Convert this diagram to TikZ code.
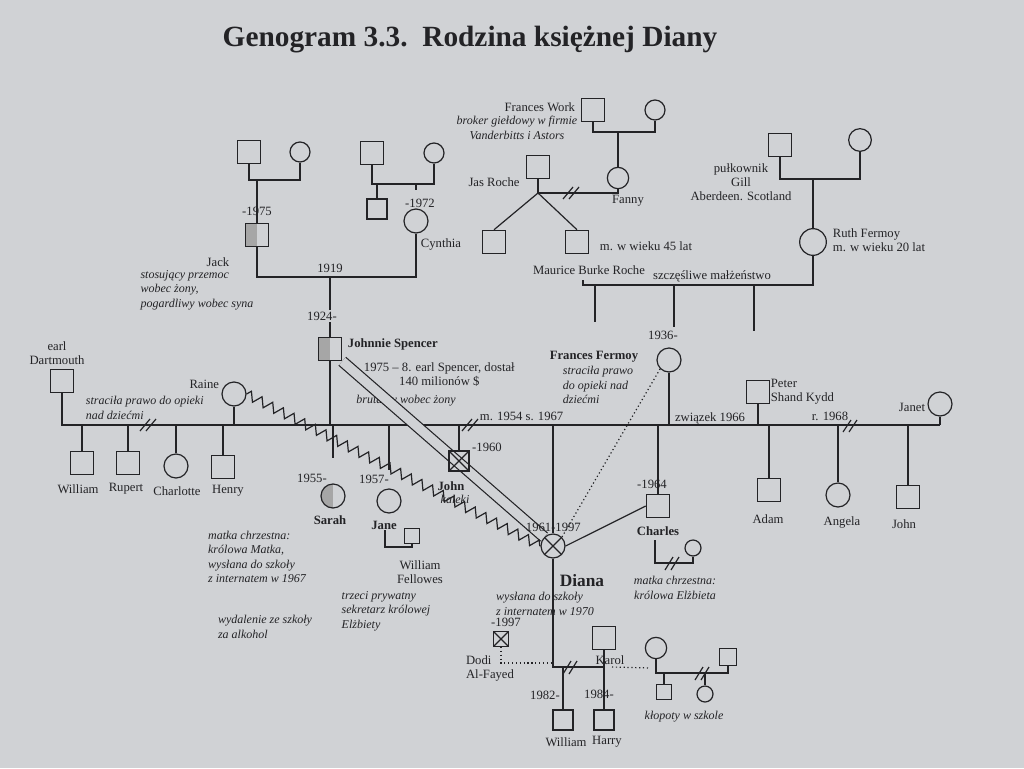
\documentclass[tikz,border=0pt]{standalone}
\usepackage{fontspec}
\setmainfont{Liberation Serif}
\usetikzlibrary{decorations.pathmorphing}
\definecolor{bg}{RGB}{208,210,213}
\definecolor{ink}{RGB}{35,35,38}
\begin{document}
\begin{tikzpicture}[x=0.75pt,y=-0.75pt,line width=0.9pt,draw=ink,text=ink,
  font=\fontsize{9.5}{10.5}\selectfont,
  sq/.style={draw,minimum size=17.5pt,inner sep=0},
  ssq/.style={draw,minimum size=11pt,inner sep=0},
  ci/.style={draw,circle,minimum size=18pt,inner sep=0},
  sci/.style={draw,circle,minimum size=12pt,inner sep=0},
  half/.style={path picture={\fill[gray!70] (path picture bounding box.south west) rectangle (path picture bounding box.north);}},
  cross/.style={path picture={\draw (path picture bounding box.south west)--(path picture bounding box.north east) (path picture bounding box.north west)--(path picture bounding box.south east);}},
  lab/.style={inner sep=1pt,align=center},
  it/.style={inner sep=1pt,align=left,font=\fontsize{9}{10.8}\selectfont\itshape},
  bl/.style={inner sep=1pt,font=\fontsize{9.5}{10.5}\selectfont\bfseries}]
\fill[bg] (0,0) rectangle (1024,768);
\useasboundingbox (0,0) rectangle (1024,768);
\node[font=\fontsize{22}{24}\selectfont\bfseries] (title) at (470,40) {Genogram 3.3.\ \ Rodzina księżnej Diany};
% --- Spencer grandparents
\node[sq] (gf1) at (249,152) {}; \node[ci,minimum size=15pt] (gm1) at (300,152) {};
\draw (gf1.south) |- (275,180) -| (gm1.south);
\node[sq,half] (jack) at (257,235) {};
\draw (257,180) -- (jack.north);
\node[lab] (t1975) at (257,211) {-1975};
\node[lab] (jackl) at (218,262) {Jack};
\node[it] (jackt) at (197,290) {stosujący przemoc\\wobec żony,\\pogardliwy wobec syna};
\node[sq] (gf2) at (372,153) {}; \node[ci,minimum size=15pt] (gm2) at (434,153) {};
\draw (gf2.south) |- (400,184) -| (gm2.south);
\node[sq,minimum size=15pt] (bro) at (377,209) {};
\node[ci] (cyn) at (416,221) {};
\draw (377,184) -- (bro.north); \draw (416,184) -- (416,190);
\node[lab] (t1972) at (420,203) {-1972};
\node[lab,anchor=west] (cynl) at (419,244) {Cynthia};
\draw (jack.south) |- (330,277) -| (cyn.south);
\node[lab] (t1919) at (330,268) {1919};
\node[sq,half] (johnnie) at (330,349) {};
\draw (330,277) -- (johnnie.north);
\node[lab,fill=bg] (t1924) at (322,316) {1924-};
\node[bl,anchor=west] (johnniel) at (346,344) {Johnnie Spencer};
\node[lab,anchor=north west] (earl) at (362,361) {1975 – 8. earl Spencer, dostał\\140 milionów \$};
\node[it] (brut) at (406,401) {brutalny wobec żony};
% --- Dartmouth, Raine
\node[sq] (dart) at (62,381) {};
\node[lab] (dartl) at (57,353) {earl\\Dartmouth};
\node[ci] (raine) at (234,394) {};
\node[lab,anchor=east] (rainel) at (221,384) {Raine};
\node[it,anchor=west] (rainet) at (84,408) {straciła prawo do opieki\\nad dziećmi};
\draw (dart.south) |- (234,425) -- (raine.south);
\draw (140,431)--(150,419) (146,431)--(156,419);
\node[sq] (w1) at (82,463) {}; \node[sq] (rup) at (128,463) {}; \node[ci] (cha) at (176,466) {}; \node[sq] (hen) at (223,467) {};
\foreach \n/\x in {w1/82,rup/128,cha/176,hen/223}{\draw (\x,425) -- (\n.north);}
\node[lab] (w1l) at (78,489) {William}; \node[lab] (rupl) at (126,489) {Rupert};
\node[lab] (chal) at (177,491) {Charlotte}; \node[lab] (henl) at (228,491) {Henry};
% --- main line
\node[ci] (fran) at (669,360) {};
\node[lab] (t1936) at (663,335) {1936-};
\node[bl] (franl) at (594,357) {Frances Fermoy};
\node[it] (frant) at (598,385) {straciła prawo\\do opieki nad\\dziećmi};
\draw (234,425) -- (940,425);
\draw (johnnie.south) -- (330,425);
\draw (fran.south) -- (669,425);
\draw (462,431)--(472,419) (468,431)--(478,419);
\node[lab,anchor=west] (mar) at (478,416) {m. 1954 s. 1967};
% children
\node[ci,half] (sarah) at (333,496) {};
\draw (333,425) -- (333,458);
\node[lab] (t1955) at (312,478) {1955-};
\node[bl] (sarahl) at (330,520) {Sarah};
\node[it] (saraht) at (257,557) {matka chrzestna:\\królowa Matka,\\wysłana do szkoły\\z internatem w 1967};
\node[it] (wyd) at (265,627) {wydalenie ze szkoły\\za alkohol};
\node[ci] (jane) at (389,501) {};
\draw (389,425) -- (389,470);
\node[lab] (t1957) at (374,479) {1957-};
\node[bl] (janel) at (384,525) {Jane};
\node[ssq] (wf) at (412,536) {};
\draw (385,530) |- (412,547) -- (wf.south);
\node[lab] (wfl) at (420,572) {William\\Fellowes};
\node[it] (wft) at (386,611) {trzeci prywatny\\sekretarz królowej\\Elżbiety};
% double line and zigzag
\node[ci,cross] (diana) at (553,546) {};
\draw[double=bg,double distance=7pt] (johnnie.south east) -- (diana.north west);
\draw[decorate,decoration={zigzag,segment length=9pt,amplitude=3.5pt}] (raine.east) -- (diana.west);
\node[sq,half,cross,minimum size=15pt] (john) at (459,461) {};
\draw (459,425) -- (john.north);
\node[lab] (t1960) at (487,447) {-1960};
\node[bl] (johnl) at (451,486) {John};
\node[it] (johnt) at (455,499) {kaleki};
\draw (553,425) -- (diana.north);
\node[lab,anchor=west] (t1961) at (524,527) {1961-1997};
\node[font=\fontsize{13}{15}\selectfont\bfseries,inner sep=1pt] (dianal) at (582,581) {Diana};
\node[it] (dianat) at (545,604) {wysłana do szkoły\\z internatem w 1970};
\draw[dotted] (fran.south west) -- (diana.north east);
% Charles
\node[sq] (charles) at (658,506) {};
\draw (658,425) -- (charles.north);
\node[lab] (t1964) at (652,484) {-1964};
\node[bl] (charlesl) at (658,531) {Charles};
\draw (diana.east) -- (charles.west);
\node[sci] (chw) at (693,548) {};
\draw (655,540) |- (693,563) -- (chw.south);
\draw (665,570)--(673,557) (671,570)--(679,557);
\node[it,align=center] (cht) at (675,588) {matka chrzestna:\\królowa Elżbieta};
% Peter, Janet
\node[sq] (peter) at (758,392) {};
\node[lab,anchor=west,align=left] (peterl) at (769,392) {Peter\\Shand Kydd};
\draw (peter.south) -- (758,425);
\node[lab] (zw) at (710,418) {związek 1966};
\node[ci] (janet) at (940,404) {};
\node[lab] (janetl) at (912,407) {Janet};
\draw (janet.south) -- (940,425);
\node[lab] (r1968) at (830,416) {r. 1968};
\draw (843,432)--(851,420) (849,432)--(857,420);
\node[sq] (adam) at (769,490) {}; \node[ci] (ang) at (838,495) {}; \node[sq] (jo2) at (908,497) {};
\foreach \n/\x in {adam/769,ang/838,jo2/908}{\draw (\x,425) -- (\n.north);}
\node[lab] (adaml) at (768,519) {Adam}; \node[lab] (angl) at (842,522) {Angela}; \node[lab] (jo2l) at (904,524) {John};
% --- Roche / Fermoy
\node[sq] (fw) at (593,110) {}; \node[ci,minimum size=15pt] (fwm) at (655,110) {};
\draw (fw.south) |- (620,132) -| (fwm.south);
\node[lab,anchor=east] (fwl) at (577,107) {Frances Work};
\node[it,align=center] (fwt) at (517,128) {broker giełdowy w firmie\\Vanderbitts i Astors};
\node[ci,minimum size=16pt] (fanny) at (618,178) {};
\draw (618,132) -- (fanny.north);
\node[lab] (fannyl) at (628,201) {Fanny};
\node[sq] (jas) at (538,167) {};
\node[lab] (jasl) at (494,182) {Jas Roche};
\draw (jas.south) -- (538,193) -- (618,193) -- (fanny.south);
\draw (563,199)--(573,187) (569,199)--(579,187);
\node[sq] (rb) at (494,242) {}; \node[sq] (mbr) at (577,242) {};
\draw (rb.north) -- (538,193) -- (mbr.north);
\node[lab] (mbrl) at (589,270) {Maurice Burke Roche};
\node[lab,anchor=west] (mbrt) at (598,246) {m. w wieku 45 lat};
\node[sq] (gill) at (780,145) {}; \node[ci,minimum size=17pt] (gillw) at (860,140) {};
\draw (gill.south) |- (813,179) -| (gillw.south);
\node[lab] (gilll) at (741,182) {pułkownik\\Gill\\Aberdeen. Scotland};
\node[ci,minimum size=20pt] (ruth) at (813,242) {};
\draw (813,179) -- (ruth.north);
\node[lab,anchor=west,align=left] (rutht) at (831,240) {Ruth Fermoy\\m. w wieku 20 lat};
\draw (583,280) -- (583,285) -- (813,285) -- (ruth.south);
\node[lab] (szcz) at (712,276) {szczęśliwe małżeństwo};
\draw (595,285) -- (595,322) (674,285) -- (674,327) (754,285) -- (754,331);
% --- Diana's marriage
\node[sq] (karol) at (604,638) {};
\node[lab] (karoll) at (610,660) {Karol};
\draw (diana.south) -- (553,667) -- (604,667) -- (karol.south);
\draw (563,674)--(571,661) (569,674)--(577,661);
\node[ssq,cross] (dodi) at (501,639) {};
\node[lab] (t1997) at (506,622) {-1997};
\node[lab,align=left] (dodil) at (490,668) {Dodi\\Al-Fayed};
\draw[dotted] (dodi.south) |- (553,663);
\node[sq,minimum size=15pt] (wil) at (563,720) {}; \node[sq,minimum size=15pt] (har) at (604,720) {};
\draw (563,667) -- (wil.north); \draw (604,667) -- (har.north);
\node[lab] (t1982) at (545,695) {1982-}; \node[lab] (t1984) at (599,694) {1984-};
\node[lab] (will) at (566,742) {William}; \node[lab] (harl) at (607,742) {Harry};
\node[ci,minimum size=16pt] (cam) at (656,648) {}; \node[ssq,minimum size=13pt] (ap) at (728,657) {};
\draw[dotted] (612,667) -- (650,668);
\draw (cam.south) |- (690,673) -| (ap.south);
\draw (695,680)--(703,667) (701,680)--(709,667);
\node[ssq] (k1) at (664,692) {}; \node[sci] (k2) at (705,694) {};
\draw (664,673) -- (k1.north); \draw (705,673) -- (k2.north);
\node[it] (klo) at (684,717) {kłopoty w szkole};
\end{tikzpicture}
\end{document}
